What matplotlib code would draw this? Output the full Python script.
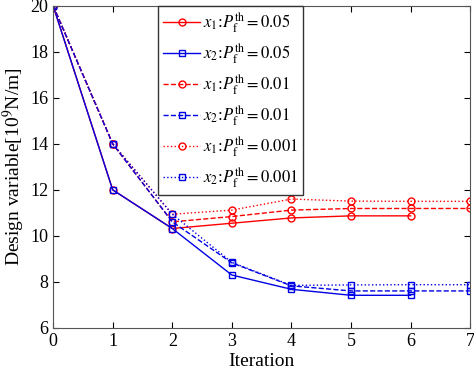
import numpy as np
import matplotlib.pyplot as plt

plt.rcParams['font.family'] = ['Liberation Serif', 'DejaVu Serif']
plt.rcParams['mathtext.fontset'] = 'stix'

# iteration values for each curve
it_short = [0, 1, 2, 3, 4, 5, 6]
it_long = [0, 1, 2, 3, 4, 5, 6, 7]

x1_005 = [20, 12, 10.32, 10.55, 10.78, 10.87, 10.87]
x2_005 = [20, 12, 10.32, 8.30, 7.68, 7.42, 7.42]
x1_001 = [20, 14, 10.61, 10.84, 11.12, 11.19, 11.19, 11.19]
x2_001 = [20, 14, 10.61, 8.83, 7.83, 7.61, 7.61, 7.61]
x1_0001 = [20, 14, 10.94, 11.12, 11.60, 11.51, 11.50, 11.50]
x2_0001 = [20, 14, 10.94, 8.85, 7.85, 7.87, 7.88, 7.88]

labels = [r'$x_1$:$P_{\mathrm{f}}^{\mathrm{th}}=0.05$',
          r'$x_2$:$P_{\mathrm{f}}^{\mathrm{th}}=0.05$',
          r'$x_1$:$P_{\mathrm{f}}^{\mathrm{th}}=0.01$',
          r'$x_2$:$P_{\mathrm{f}}^{\mathrm{th}}=0.01$',
          r'$x_1$:$P_{\mathrm{f}}^{\mathrm{th}}=0.001$',
          r'$x_2$:$P_{\mathrm{f}}^{\mathrm{th}}=0.001$']

fig = plt.figure(figsize=(4.74, 3.74), dpi=100)
ax = fig.add_axes([0.112, 0.123, 0.880, 0.862])

red = '#ff0000'
blue = '#0000e6'
mk = dict(markersize=5, markerfacecolor='none', markeredgewidth=1.0, linewidth=1.0)

ax.plot(it_short, x1_005, '-o', color=red, label=labels[0], **mk)
ax.plot(it_short, x2_005, '-s', color=blue, label=labels[1], **mk)
ax.plot(it_long, x1_001, '--o', color=red, label=labels[2], **mk)
ax.plot(it_long, x2_001, '--s', color=blue, label=labels[3], **mk)
ax.plot(it_long, x1_0001, ':o', color=red, label=labels[4], **mk)
ax.plot(it_long, x2_0001, ':s', color=blue, label=labels[5], **mk)

ax.set_xlim(0, 7)
ax.set_ylim(6, 20)
ax.set_xticks(np.arange(0, 8, 1))
ax.set_yticks(np.arange(6, 21, 2))
ax.tick_params(direction='in', top=True, right=True, labelsize=13, length=4)
for s in ax.spines.values():
    s.set_color('#555555')

ax.set_xlabel('Iteration', fontsize=14, labelpad=2)
ax.set_ylabel(r'Design variable[10$^9$N/m]', fontsize=14, labelpad=2)

leg = ax.legend(loc='upper left', bbox_to_anchor=(0.252, 1.0), fontsize=12,
                fancybox=False, edgecolor='#333333', framealpha=1,
                handlelength=2.2, borderpad=0.3, labelspacing=0.4,
                handletextpad=0.2, borderaxespad=0)
leg.get_frame().set_linewidth(1.0)

fig.savefig('out.png', dpi=100)
